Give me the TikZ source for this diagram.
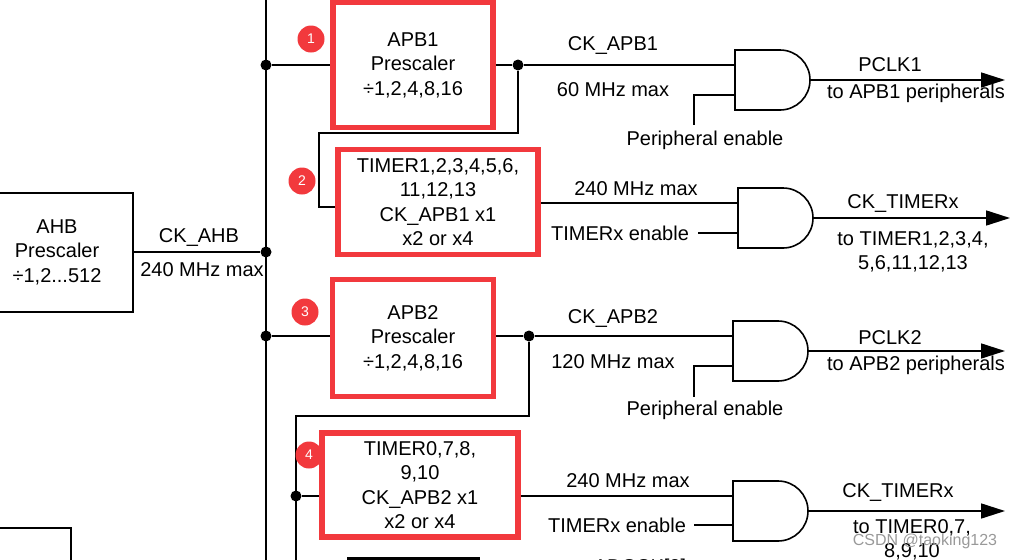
\documentclass[tikz,border=0pt]{standalone}
\usepackage{fontspec}
\setmainfont{Liberation Sans}
\usetikzlibrary{arrows.meta}
\definecolor{rbox}{HTML}{F2393D}
\begin{document}
\begin{tikzpicture}[x=1pt,y=-1pt,line width=1.6pt,
  txt/.style={font=\fontsize{20}{24.5}\selectfont,inner sep=0pt,align=center},
  redbox/.style={draw=rbox,line width=5.5pt,fill=white,minimum width=#1},
  badge/.style={circle,fill=rbox,text=white,inner sep=0pt,minimum size=27pt,font=\fontsize{14}{14}\selectfont},
  dot/.style={circle,fill=black,inner sep=0pt,minimum size=11pt},
  arr/.style={-{Triangle[length=24pt,width=15pt]}},
  gate/.pic={\draw[fill=white] (0,-30) -- (45,-30) arc[start angle=90,end angle=-90,x radius=30,y radius=-30] -- (0,30) -- cycle;}
]
\useasboundingbox (0,0) rectangle (1013,560);
\begin{scope}
\clip (0,0) rectangle (1013,560);
% bus
\draw (266,0) -- (266,560);
% AHB
\draw (0,193) -| (133,312) -- (0,312);
\node[txt] (ahb) at (57,252) {AHB\\Prescaler\\÷1,2...512};
\node[dot] (dahb) at (266,252) {};
\draw (133,252) -- (dahb);
\node[txt] at (199,238) {CK\_AHB};
\node[txt] at (202,270) {240 MHz max};
% APB1
\node[dot] (d1) at (266,65) {};
\node[redbox=160pt,minimum height=125pt,txt] (apb1) at (413,65) {APB1\\Prescaler\\÷1,2,4,8,16};
\draw (d1) -- (apb1.west);
\node[dot] (d1b) at (518,65) {};
\draw (apb1.east) -- (d1b) -- (735,65);
\draw (d1b) -- (518,133) -- (319,133) -- (319,207) -- (340,207);
\node[txt] at (613,46) {CK\_APB1};
\node[txt] at (613,90) {60 MHz max};
\pic at (735,80) {gate};
\draw (735,95) -- (694,95) -- (694,125);
\node[txt] at (705,140) {Peripheral enable};
\coordinate (o1) at (1005,80);
\draw[arr] (810,80) -- (o1);
\node[txt] at (890,65) {PCLK1};
\node[txt] at (916,93) {to APB1 peripherals};
% TIMER1
\node[redbox=200pt,minimum height=105pt,txt] (t1) at (438,202) {TIMER1,2,3,4,5,6,\\11,12,13\\CK\_APB1 x1\\x2 or x4};
\draw (t1.east |- 0,203) -- (738,203);
\node[txt] at (636,189) {240 MHz max};
\node[txt] at (620,233) {TIMERx enable};
\draw (698,233) -- (738,233);
\pic at (738,218) {gate};
\coordinate (o2) at (1010,218);
\draw[arr] (813,218) -- (o2);
\node[txt] at (903,204) {CK\_TIMERx};
\node[txt] at (913,252) {to TIMER1,2,3,4,\\5,6,11,12,13};
% APB2
\node[dot] (d3) at (266,336) {};
\node[redbox=161pt,minimum height=117pt,txt] (apb2) at (413,338) {APB2\\Prescaler\\÷1,2,4,8,16};
\draw (d3) -- (apb2.west |- d3);
\node[dot] (d3b) at (529,336) {};
\draw (apb2.east |- d3) -- (d3b) -- (733,336);
\draw (d3b) -- (529,416) -- (296,416) -- (296,560);
\node[txt] at (613,318) {CK\_APB2};
\node[txt] at (613,362) {120 MHz max};
\pic at (733,351) {gate};
\draw (733,366) -- (694,366) -- (694,397);
\node[txt] at (705,410) {Peripheral enable};
\coordinate (o3) at (1005,351);
\draw[arr] (808,351) -- (o3);
\node[txt] at (890,338) {PCLK2};
\node[txt] at (916,365) {to APB2 peripherals};
% TIMER0
\node[dot] (d4) at (296,496) {};
\node[redbox=196pt,minimum height=104pt,txt] (t0) at (420,485) {TIMER0,7,8,\\9,10\\CK\_APB2 x1\\x2 or x4};
\draw (d4) -- (t0.west |- d4);
\draw (t0.east |- d4) -- (733,496);
\node[txt] at (628,481) {240 MHz max};
\node[txt] at (617,525) {TIMERx enable};
\draw (694,525) -- (733,525);
\pic at (733,511) {gate};
\coordinate (o4) at (1005,511);
\draw[arr] (808,511) -- (o4);
\node[txt] at (898,492) {CK\_TIMERx};
\node[txt] at (912,540) {to TIMER0,7,\\8,9,10};
% bottom partial
\draw (0,528) -- (71,528) -- (71,565);
\draw[line width=3pt] (347,558) -- (480,558);
\node[txt] at (640,568) {ADCCK[2]};
% badges
\node[badge] at (311,39) {1};
\node[badge] at (302,181) {2};
\node[badge] at (305,312) {3};
\node[badge] at (309,455) {4};
\node[txt,text=black!40,font=\fontsize{16}{16}\selectfont] at (925,541) {CSDN @taoking123};
\end{scope}
\end{tikzpicture}
\end{document}
